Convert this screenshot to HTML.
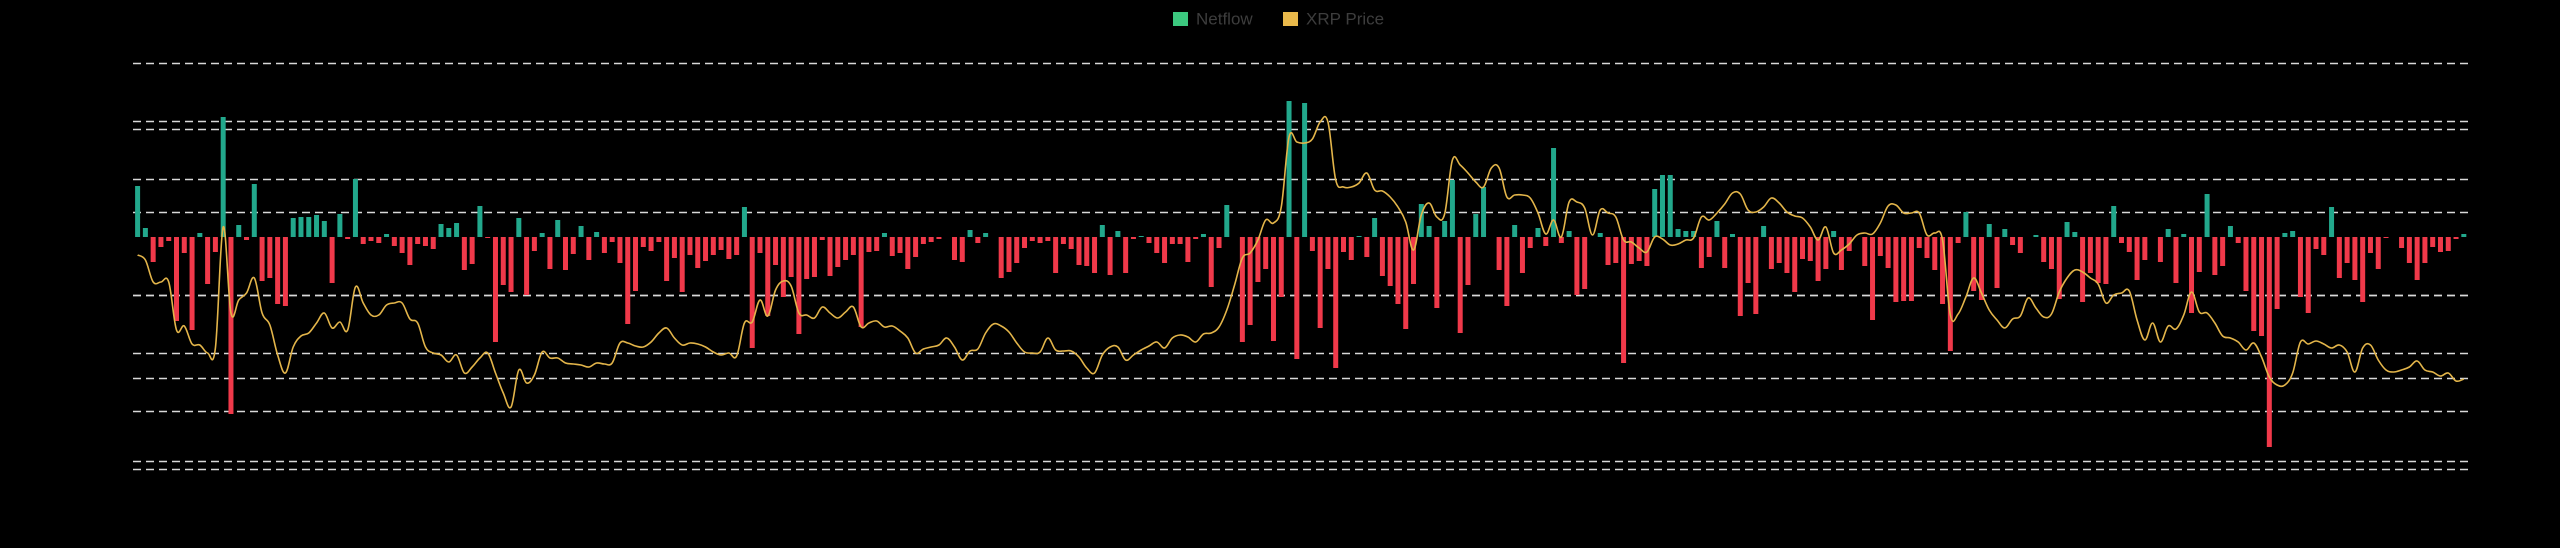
<!DOCTYPE html>
<html><head><meta charset="utf-8">
<style>
html,body{margin:0;padding:0;background:#000;}
body{width:2560px;height:548px;overflow:hidden;font-family:"Liberation Sans",sans-serif;}
svg{display:block}
</style></head>
<body>
<svg id="chart" width="2560" height="548" viewBox="0 0 2560 548" xmlns="http://www.w3.org/2000/svg">
  <g>
    <rect x="1173" y="12" width="15" height="14" fill="#3cc87f"/>
    <text x="1196" y="24.5" font-size="17" fill="#3d3d3d" font-family="Liberation Sans, sans-serif">Netflow</text>
    <rect x="1283" y="12" width="15" height="14" fill="#e9b94b"/>
    <text x="1306" y="24.5" font-size="17" fill="#3d3d3d" font-family="Liberation Sans, sans-serif">XRP Price</text>
  </g>
  <g id="grid"></g>
  <g id="bars"></g>
  <g id="line"></g>
</svg>
<script>
const netflowTicks = [-232, -174, -116, -58, 58, 116, 174];
const priceTicks = [0, 83, 166, 249, 332];
const netflow = [51,9,-25,-10,-4,-84,-16,-93,4,-47,-15,120,-177,12,-3,53,-44,-41,-67,-69,
19,20,20,22,16,-46,23,-2,58,-7,-4,-6,3,-9,-16,-28,-7,-9,-12,13,
9,14,-33,-27,31,-1,-105,-48,-55,19,-58,-14,4,-32,17,-33,-17,11,-23,5,
-16,-5,-26,-87,-54,-10,-14,-5,-44,-21,-55,-18,-31,-24,-18,-13,-22,-18,30,-111,
-16,-79,-28,-60,-40,-97,-42,-40,-3,-39,-30,-23,-18,-90,-15,-14,4,-19,-16,-32,
-20,-7,-5,-2,0,-23,-25,7,-6,4,0,-41,-35,-26,-11,-4,-6,-4,-36,-7,
-12,-28,-29,-36,12,-38,6,-36,-2,1,-6,-16,-26,-7,-7,-25,-2,3,-50,-11,
32,0,-105,-88,-45,-32,-104,-60,136,-122,134,-14,-91,-32,-131,-15,-23,1,-20,19,
-39,-49,-67,-92,-47,33,11,-71,16,57,-96,-48,23,50,0,-33,-69,12,-36,-11,
9,-9,89,-6,6,-58,-52,0,4,-28,-26,-126,-27,-24,-29,48,62,62,8,6,
6,-31,-20,16,-31,3,-79,-46,-77,11,-32,-26,-36,-55,-22,-24,-44,-32,6,-33,
-14,0,-29,-83,-19,-31,-65,-64,-64,-11,-21,-33,-67,-114,-6,25,-54,-63,13,-51,
8,-8,-16,0,2,-25,-32,-62,15,5,-65,-36,-46,-47,31,-6,-15,-43,-23,0,
-25,8,-46,3,-76,-35,43,-38,-29,11,-6,-54,-94,-99,-210,-72,4,6,-60,-76,
-12,-18,30,-41,-26,-43,-65,-16,-32,-1,0,-11,-26,-43,-26,-10,-15,-14,-2,3];
const price = [206,201,179,179,179,131,135,117,116,108,113,234,148,161,168,183,148,136,106,88,
114,125,128,138,148,133,139,131,174,158,146,146,156,158,158,142,138,114,108,106,
99,106,88,94,103,108,88,68,54,91,78,86,109,103,103,98,97,96,94,98,
97,98,118,118,115,114,119,128,133,123,116,118,117,114,109,106,108,105,138,139,
161,145,171,180,175,148,146,143,154,148,143,149,154,134,138,140,134,135,130,123,
108,112,114,116,123,114,101,110,112,128,137,135,129,118,109,108,109,123,111,110,
110,104,93,88,106,114,114,101,106,111,115,119,113,123,126,124,119,127,128,134,
151,176,203,208,221,241,238,254,324,319,318,322,339,339,281,274,274,278,288,271,
270,264,254,239,211,246,258,244,247,301,296,288,279,274,293,293,264,266,266,263,
248,227,241,224,259,259,253,226,251,248,244,221,219,213,209,224,222,216,217,221,
223,244,241,248,257,268,267,251,249,254,263,258,249,245,243,234,221,234,208,211,
217,226,228,227,238,255,256,248,248,248,226,228,221,146,147,164,183,168,151,141,
133,142,145,163,153,144,147,169,183,191,189,183,177,158,166,168,170,141,121,138,
119,135,132,146,169,149,148,138,125,123,119,111,118,104,84,76,76,88,119,117,
120,117,113,116,109,89,113,116,101,91,89,91,94,100,91,89,85,88,80,82];

const NS = "http://www.w3.org/2000/svg";
const X0 = 137.6, STEP = 7.78, BAR_W = 5;
const ZERO_Y = 237, N_TICK_PX = 58, N_TICK_VAL = 58;
const P_BASE_Y = 461, P_TICK_PX = 83, P_TICK_VAL = 83;
const GRID_X1 = 133, GRID_X2 = 2469;
function xScale(i){ return X0 + STEP * i; }
function yNet(v){ return ZERO_Y - v * N_TICK_PX / N_TICK_VAL; }
function yPrice(p){ return P_BASE_Y - p * P_TICK_PX / P_TICK_VAL; }

const grid = document.getElementById('grid');
function gridLine(y, name){
  const l = document.createElementNS(NS, 'line');
  l.setAttribute('x1', GRID_X1); l.setAttribute('x2', GRID_X2);
  l.setAttribute('y1', y); l.setAttribute('y2', y);
  l.setAttribute('stroke', '#d8d8d8'); l.setAttribute('stroke-width', '1.5');
  l.setAttribute('stroke-dasharray', '8 5');
  
  
  grid.appendChild(l);
}
netflowTicks.forEach(t => gridLine(Math.round(yNet(t)) + 0.5, 'netflow-gridline'));
priceTicks.forEach(t => gridLine(Math.round(yPrice(t)) + 0.5, 'price-gridline'));

const bars = document.getElementById('bars');
netflow.forEach((v, i) => {
  if (v === 0) return;
  const r = document.createElementNS(NS, 'rect');
  const y0 = yNet(0), y1 = yNet(v);
  r.setAttribute('x', (xScale(i) - BAR_W / 2).toFixed(2));
  r.setAttribute('y', Math.min(y0, y1));
  r.setAttribute('width', BAR_W);
  r.setAttribute('height', Math.abs(y1 - y0));
  r.setAttribute('fill', v > 0 ? '#22a88c' : '#f0394a');
  
  
  bars.appendChild(r);
});

const pts = price.map((p, i) => [xScale(i), yPrice(p)]);
let d = 'M' + pts[0][0].toFixed(2) + ',' + pts[0][1].toFixed(2);
for (let i = 0; i < pts.length - 1; i++) {
  const p0 = pts[Math.max(0, i - 1)], p1 = pts[i], p2 = pts[i + 1], p3 = pts[Math.min(pts.length - 1, i + 2)];
  const t = 0.18;
  const c1x = p1[0] + (p2[0] - p0[0]) * t, c1y = p1[1] + (p2[1] - p0[1]) * t;
  const c2x = p2[0] - (p3[0] - p1[0]) * t, c2y = p2[1] - (p3[1] - p1[1]) * t;
  d += ' C' + c1x.toFixed(2) + ',' + c1y.toFixed(2) + ' ' + c2x.toFixed(2) + ',' + c2y.toFixed(2) + ' ' + p2[0].toFixed(2) + ',' + p2[1].toFixed(2);
}
const path = document.createElementNS(NS, 'path');
path.setAttribute('d', d);
path.setAttribute('fill', 'none');
path.setAttribute('stroke', '#e3b54a');
path.setAttribute('stroke-width', '1.6');


document.getElementById('line').appendChild(path);
</script>
</body></html>
